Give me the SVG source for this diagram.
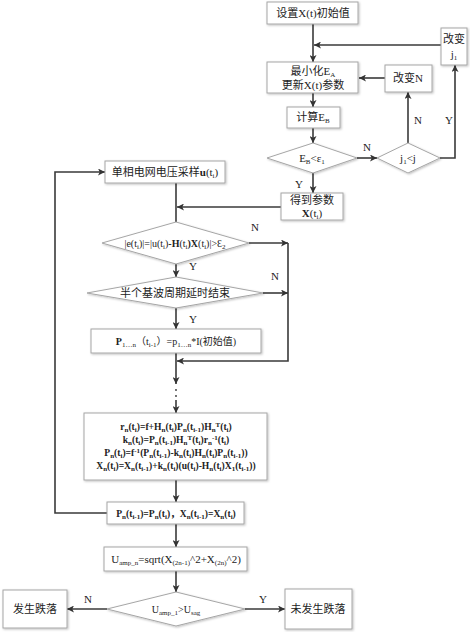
<svg xmlns="http://www.w3.org/2000/svg" width="474" height="632" viewBox="0 0 474 632">
<defs>
<marker id="ah" viewBox="0 0 10 10" refX="10" refY="5" markerWidth="7" markerHeight="7" orient="auto" markerUnits="userSpaceOnUse">
<path d="M0,0 L10,5 L0,10 L2.5,5 z" fill="#333"/>
</marker>
<filter id="sh" x="-5%" y="-5%" width="115%" height="130%">
<feDropShadow dx="1" dy="1" stdDeviation="0.8" flood-color="#000" flood-opacity="0.25"/>
</filter>
<style>
.b{fill:#fff;stroke:#a6a6a6;stroke-width:1;filter:url(#sh)}
.c{fill:none;stroke:#3a3a3a;stroke-width:1.6}
.a{marker-end:url(#ah)}
text{font-family:"Liberation Serif","Noto Sans CJK SC",serif;font-size:11px;fill:#222;text-anchor:middle}
.s{font-size:7px}
.f{font-size:9.6px;font-weight:bold}
.bd{font-weight:bold}
.l{font-size:11px}
</style>
</defs>
<rect width="474" height="632" fill="#fff"/>

<g id="connectors">
<path class="c a" d="M313,24 V62"/>
<path class="c a" d="M441,45 H314"/>
<path class="c a" d="M385,78 H359"/>
<path class="c a" d="M313,93 V107"/>
<path class="c a" d="M313,128 V143"/>
<path class="c a" d="M357,158 H377"/>
<path class="c a" d="M408,143 V92"/>
<path class="c a" d="M440,158 H455 V65"/>
<path class="c a" d="M313,173 V193"/>
<path class="c a" d="M281,207 H177"/>
<path class="c" d="M176,183 V222"/>
<path class="c a" d="M176,264 V277"/>
<path class="c a" d="M249,243 H288"/>
<path class="c a" d="M263,293 H288"/>
<path class="c a" d="M288,243 V361 H177"/>
<path class="c a" d="M176,308 V329"/>
<path class="c a" d="M176,353 V384"/>
<path class="c a" d="M176,400 V413"/>
<path class="c a" d="M176,480 V502"/>
<path class="c a" d="M107,513 H55 V172 H105"/>
<path class="c a" d="M176,524 V547"/>
<path class="c a" d="M176,571 V592"/>
<path class="c a" d="M107,609 H67"/>
<path class="c a" d="M245,609 H285"/>
<circle cx="176" cy="390" r="0.9" fill="#333"/>
<circle cx="176" cy="396" r="0.9" fill="#333"/>
<text x="367" y="151" class="l">N</text>
<text x="418" y="124" class="l">N</text>
<text x="449" y="124" class="l">Y</text>
<text x="299" y="188" class="l">Y</text>
<text x="255" y="231" class="l">N</text>
<text x="193" y="270" class="l">Y</text>
<text x="275" y="280" class="l">N</text>
<text x="193" y="323" class="l">Y</text>
<text x="88" y="603" class="l">N</text>
<text x="263" y="603" class="l">Y</text>
</g>

<g id="n-init">
<rect class="b" x="267" y="2" width="91" height="22"/>
<text x="313" y="17">设置X(t)初始值</text>
</g>
<g id="n-min">
<rect class="b" x="267" y="62" width="91" height="31"/>
<text x="313" y="75">最小化E<tspan class="s" dy="2">A</tspan></text>
<text x="313" y="89">更新X(t)参数</text>
</g>
<g id="n-changej">
<rect class="b" x="441" y="28" width="26" height="37"/>
<text x="454" y="43">改变</text>
<text x="454" y="58">j<tspan class="s" dy="2">1</tspan></text>
</g>
<g id="n-changeN">
<rect class="b" x="385" y="65" width="47" height="27"/>
<text x="408" y="82">改变N</text>
</g>
<g id="n-calc">
<rect class="b" x="287" y="107" width="53" height="21"/>
<text x="313" y="121">计算E<tspan class="s" dy="2">B</tspan></text>
</g>
<g id="n-d1">
<polygon class="b" points="313,143 357,158 313,173 267,158"/>
<text x="312" y="162">E<tspan class="s" dy="2">B</tspan><tspan dy="-2">&lt;ε</tspan><tspan class="s" dy="2">1</tspan></text>
</g>
<g id="n-d2">
<polygon class="b" points="408,143 440,158 408,173 377,158"/>
<text x="408" y="162">j<tspan class="s" dy="2">1</tspan><tspan dy="-2">&lt;j</tspan></text>
</g>
<g id="n-get">
<rect class="b" x="281" y="193" width="62" height="27"/>
<text x="312" y="204">得到参数</text>
<text x="312" y="217"><tspan class="bd">X</tspan>(t<tspan class="s" dy="2">i</tspan><tspan dy="-2">)</tspan></text>
</g>
<g id="n-sample">
<rect class="b" x="105" y="161" width="120" height="22"/>
<text x="165" y="176">单相电网电压采样<tspan class="bd">u</tspan>(t<tspan class="s" dy="2">i</tspan><tspan dy="-2">)</tspan></text>
</g>
<g id="n-d3">
<polygon class="b" points="176,222 249,243 176,264 102,243"/>
<text x="175" y="247" style="font-size:10px">|e(t<tspan class="s" dy="2">i</tspan><tspan dy="-2">)|=|u(t</tspan><tspan class="s" dy="2">i</tspan><tspan dy="-2">)</tspan><tspan class="bd">-H</tspan>(t<tspan class="s" dy="2">i</tspan><tspan dy="-2" class="bd">)X</tspan>(t<tspan class="s" dy="2">i</tspan><tspan dy="-2">)|&gt;Ɛ</tspan><tspan class="s" dy="2">2</tspan></text>
</g>
<g id="n-d4">
<polygon class="b" points="176,277 263,293 176,308 87,293"/>
<text x="175" y="297">半个基波周期延时结束</text>
</g>
<g id="n-P">
<rect class="b" x="91" y="329" width="170" height="24"/>
<text x="176" y="345" style="font-size:10px"><tspan class="bd">P</tspan><tspan class="s" dy="2">1…n</tspan><tspan dy="-2">（t</tspan><tspan class="s" dy="2">i-1</tspan><tspan dy="-2">）=p</tspan><tspan class="s" dy="2">1…n</tspan><tspan dy="-2">*I(初始值)</tspan></text>
</g>
<g id="n-kalman">
<rect class="b" x="84" y="413" width="183" height="67"/>
<text x="176" y="430" class="f">r<tspan class="s" dy="2">n</tspan><tspan dy="-2">(t</tspan><tspan class="s" dy="2">i</tspan><tspan dy="-2">)=f+H</tspan><tspan class="s" dy="2">n</tspan><tspan dy="-2">(t</tspan><tspan class="s" dy="2">i</tspan><tspan dy="-2">)P</tspan><tspan class="s" dy="2">n</tspan><tspan dy="-2">(t</tspan><tspan class="s" dy="2">i-1</tspan><tspan dy="-2">)H</tspan><tspan class="s" dy="2">n</tspan><tspan class="s" dy="-5">T</tspan><tspan dy="3">(t</tspan><tspan class="s" dy="2">i</tspan><tspan dy="-2">)</tspan></text>
<text x="176" y="443" class="f">k<tspan class="s" dy="2">n</tspan><tspan dy="-2">(t</tspan><tspan class="s" dy="2">i</tspan><tspan dy="-2">)=P</tspan><tspan class="s" dy="2">n</tspan><tspan dy="-2">(t</tspan><tspan class="s" dy="2">i-1</tspan><tspan dy="-2">)H</tspan><tspan class="s" dy="2">n</tspan><tspan class="s" dy="-5">T</tspan><tspan dy="3">(t</tspan><tspan class="s" dy="2">i</tspan><tspan dy="-2">)r</tspan><tspan class="s" dy="2">n</tspan><tspan class="s" dy="-5">-1</tspan><tspan dy="3">(t</tspan><tspan class="s" dy="2">i</tspan><tspan dy="-2">)</tspan></text>
<text x="176" y="456" class="f">P<tspan class="s" dy="2">n</tspan><tspan dy="-2">(t</tspan><tspan class="s" dy="2">i</tspan><tspan dy="-2">)=f</tspan><tspan class="s" dy="-3">-1</tspan><tspan dy="3">(P</tspan><tspan class="s" dy="2">n</tspan><tspan dy="-2">(t</tspan><tspan class="s" dy="2">i-1</tspan><tspan dy="-2">)-k</tspan><tspan class="s" dy="2">n</tspan><tspan dy="-2">(t</tspan><tspan class="s" dy="2">i</tspan><tspan dy="-2">)H</tspan><tspan class="s" dy="2">n</tspan><tspan dy="-2">(t</tspan><tspan class="s" dy="2">i</tspan><tspan dy="-2">)P</tspan><tspan class="s" dy="2">n</tspan><tspan dy="-2">(t</tspan><tspan class="s" dy="2">i-1</tspan><tspan dy="-2">))</tspan></text>
<text x="176" y="469" class="f">X<tspan class="s" dy="2">n</tspan><tspan dy="-2">(t</tspan><tspan class="s" dy="2">i</tspan><tspan dy="-2">)=X</tspan><tspan class="s" dy="2">n</tspan><tspan dy="-2">(t</tspan><tspan class="s" dy="2">i-1</tspan><tspan dy="-2">)+k</tspan><tspan class="s" dy="2">n</tspan><tspan dy="-2">(t</tspan><tspan class="s" dy="2">i</tspan><tspan dy="-2">)(u(t</tspan><tspan class="s" dy="2">i</tspan><tspan dy="-2">)-H</tspan><tspan class="s" dy="2">n</tspan><tspan dy="-2">(t</tspan><tspan class="s" dy="2">i</tspan><tspan dy="-2">)X</tspan><tspan class="s" dy="2">1</tspan><tspan dy="-2">(t</tspan><tspan class="s" dy="2">i-1</tspan><tspan dy="-2">))</tspan></text>
</g>
<g id="n-update">
<rect class="b" x="107" y="502" width="137" height="22"/>
<text x="176" y="517" class="f">P<tspan class="s" dy="2">n</tspan><tspan dy="-2">(t</tspan><tspan class="s" dy="2">i-1</tspan><tspan dy="-2">)=P</tspan><tspan class="s" dy="2">n</tspan><tspan dy="-2">(t</tspan><tspan class="s" dy="2">i</tspan><tspan dy="-2">)，X</tspan><tspan class="s" dy="2">n</tspan><tspan dy="-2">(t</tspan><tspan class="s" dy="2">i-1</tspan><tspan dy="-2">)=X</tspan><tspan class="s" dy="2">n</tspan><tspan dy="-2">(t</tspan><tspan class="s" dy="2">i</tspan><tspan dy="-2">)</tspan></text>
</g>
<g id="n-amp">
<rect class="b" x="104" y="547" width="143" height="24"/>
<text x="176" y="563">U<tspan class="s" dy="2">amp_n</tspan><tspan dy="-2">=sqrt(X</tspan><tspan class="s" dy="2">(2n-1)</tspan><tspan dy="-2">^2+X</tspan><tspan class="s" dy="2">(2n)</tspan><tspan dy="-2">^2)</tspan></text>
</g>
<g id="n-d5">
<polygon class="b" points="176,592 245,609 176,626 107,609"/>
<text x="176" y="613" style="font-size:10px">U<tspan class="s" dy="2">amp_1</tspan><tspan dy="-2">&gt;U</tspan><tspan class="s" dy="2">sag</tspan></text>
</g>
<g id="n-sag">
<rect class="b" x="3" y="590" width="64" height="38"/>
<text x="35" y="613">发生跌落</text>
</g>
<g id="n-nosag">
<rect class="b" x="285" y="589" width="67" height="40"/>
<text x="318" y="613">未发生跌落</text>
</g>
</svg>
